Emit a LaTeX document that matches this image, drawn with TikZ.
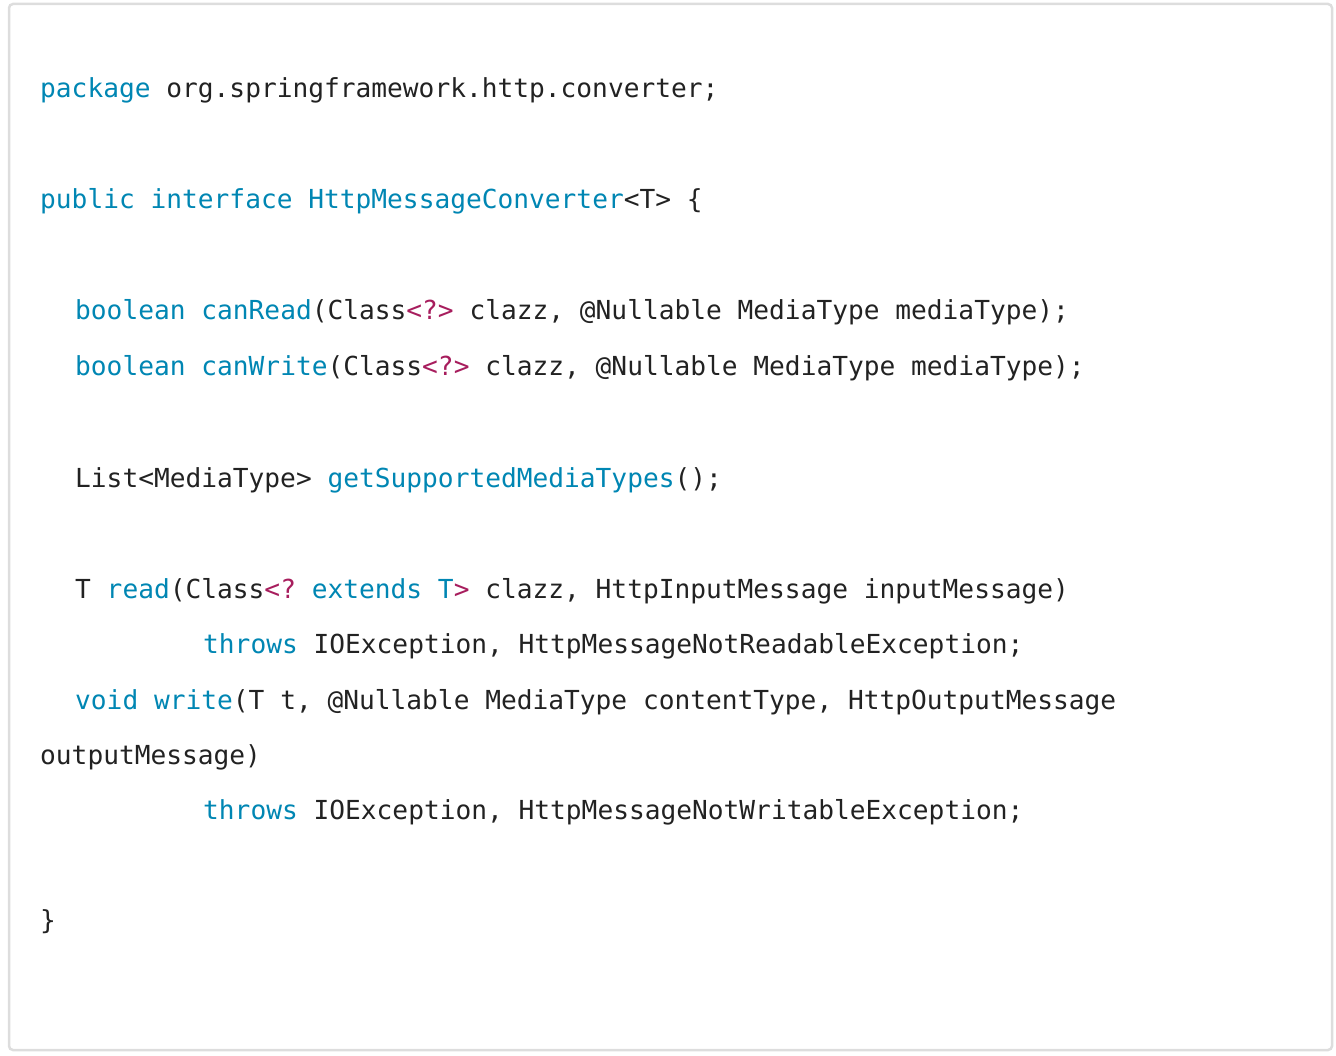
\documentclass[tikz,border=0pt]{standalone}
\usepackage{fontspec}
\setmonofont{DejaVu Sans Mono}
\definecolor{kw}{HTML}{0086B3}
\definecolor{pk}{HTML}{A71D5D}
\definecolor{tx}{HTML}{222222}
\definecolor{bd}{HTML}{DDDDDD}
\newcommand{\Kw}[1]{\textcolor{kw}{#1}}
\newcommand{\Pk}[1]{\textcolor{pk}{#1}}
\begin{document}
\begin{tikzpicture}[x=1pt,y=-1pt,
  code/.style={anchor=base west,inner sep=0pt,font=\ttfamily\fontsize{26.2}{30}\selectfont,text=tx}]
\useasboundingbox (0,0) rectangle (1336,1056);
\draw[bd,line width=2.5pt,rounded corners=4pt] (9,4) rectangle (1332,1050);
\node[code] (l1) at (40,98) {\Kw{package} org.springframework.http.converter;};
\node[code] (l2) at (40,209) {\Kw{public} \Kw{interface} \Kw{HttpMessageConverter}<T> \{};
\node[code] (l3) at (75,320) {\Kw{boolean} \Kw{canRead}(Class\Pk{<?>} clazz, @Nullable MediaType mediaType);};
\node[code] (l4) at (75,376) {\Kw{boolean} \Kw{canWrite}(Class\Pk{<?>} clazz, @Nullable MediaType mediaType);};
\node[code] (l5) at (75,487) {List<MediaType> \Kw{getSupportedMediaTypes}();};
\node[code] (l6) at (75,598) {T \Kw{read}(Class\Pk{<?} \Kw{extends} \Kw{T}\Pk{>} clazz, HttpInputMessage inputMessage)};
\node[code] (l7) at (203,653) {\Kw{throws} IOException, HttpMessageNotReadableException;};
\node[code] (l8) at (75,709) {\Kw{void} \Kw{write}(T t, @Nullable MediaType contentType, HttpOutputMessage};
\node[code] (l9) at (40,764) {outputMessage)};
\node[code] (l10) at (203,819) {\Kw{throws} IOException, HttpMessageNotWritableException;};
\node[code] (l11) at (40,929) {\}};
\end{tikzpicture}
\end{document}
